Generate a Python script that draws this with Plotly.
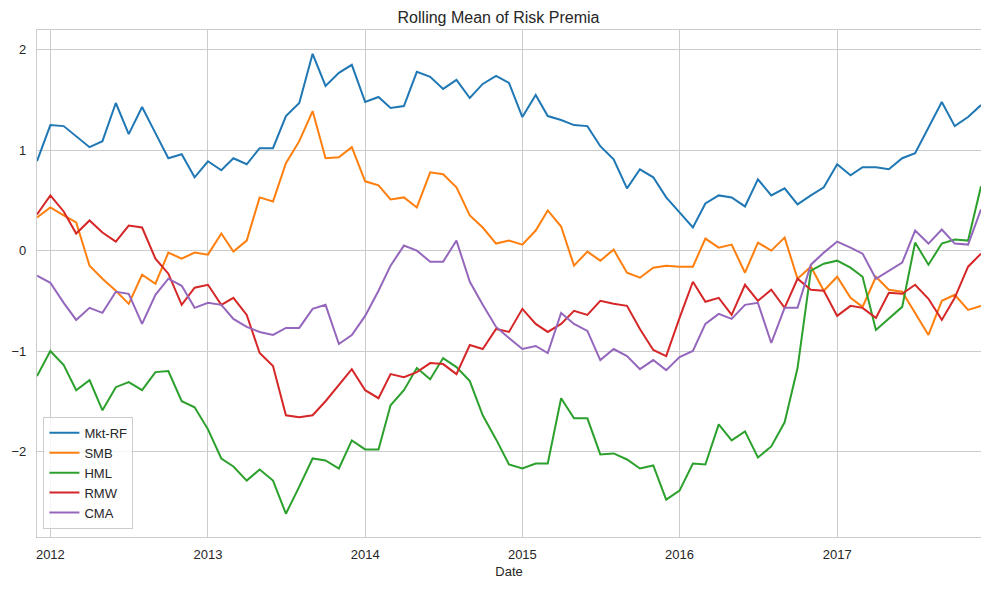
import pandas as pd
import plotly.graph_objects as go

# ---- data (monthly rolling means, Dec 2011 .. Dec 2017) ----
start_month = "2011-12-01"
end_month = "2017-12-01"
dates = pd.date_range(start_month, end_month, freq="MS")

mkt_rf = [0.89,
          1.25, 1.24, 1.14, 1.03, 1.09, 1.47, 1.16, 1.43, 1.17, 0.92, 0.96, 0.73,
          0.89, 0.80, 0.92, 0.86, 1.02, 1.02, 1.34, 1.47, 1.96, 1.64, 1.77, 1.85,
          1.48, 1.53, 1.42, 1.44, 1.78, 1.73, 1.61, 1.70, 1.52, 1.66, 1.74, 1.67,
          1.33, 1.55, 1.34, 1.30, 1.25, 1.24, 1.04, 0.91, 0.62, 0.81, 0.73, 0.53,
          0.38, 0.23, 0.47, 0.55, 0.53, 0.44, 0.71, 0.55, 0.62, 0.46, 0.55, 0.63,
          0.86, 0.75, 0.83, 0.83, 0.81, 0.92, 0.97, 1.23, 1.48, 1.24, 1.33, 1.45]

smb = [0.33,
       0.43, 0.35, 0.28, -0.15, -0.28, -0.40, -0.53, -0.24, -0.33, -0.02, -0.08, -0.02,
       -0.04, 0.17, -0.01, 0.10, 0.53, 0.49, 0.87, 1.09, 1.39, 0.92, 0.93, 1.03,
       0.69, 0.65, 0.51, 0.53, 0.43, 0.78, 0.76, 0.63, 0.35, 0.23, 0.07, 0.10,
       0.06, 0.20, 0.40, 0.24, -0.15, -0.01, -0.10, 0.01, -0.22, -0.27, -0.17, -0.15,
       -0.16, -0.16, 0.12, 0.03, 0.06, -0.22, 0.08, 0.00, 0.13, -0.28, -0.16, -0.40,
       -0.26, -0.47, -0.56, -0.26, -0.39, -0.41, -0.62, -0.84, -0.50, -0.44, -0.59, -0.55]

hml = [-1.25,
       -1.00, -1.14, -1.39, -1.29, -1.59, -1.36, -1.31, -1.39, -1.21, -1.20, -1.50, -1.56,
       -1.78, -2.07, -2.15, -2.29, -2.18, -2.29, -2.62, -2.35, -2.07, -2.09, -2.17, -1.89,
       -1.98, -1.98, -1.54, -1.39, -1.17, -1.28, -1.07, -1.16, -1.30, -1.64, -1.88, -2.13,
       -2.17, -2.12, -2.12, -1.47, -1.67, -1.67, -2.03, -2.02, -2.08, -2.17, -2.14, -2.48,
       -2.39, -2.12, -2.13, -1.73, -1.89, -1.80, -2.06, -1.95, -1.71, -1.17, -0.20, -0.13,
       -0.10, -0.17, -0.26, -0.79, -0.68, -0.56, 0.08, -0.14, 0.07, 0.11, 0.10, 0.64]

rmw = [0.36,
       0.55, 0.39, 0.17, 0.30, 0.18, 0.09, 0.25, 0.23, -0.08, -0.23, -0.54, -0.37,
       -0.34, -0.54, -0.47, -0.64, -1.02, -1.15, -1.64, -1.66, -1.64, -1.50, -1.34, -1.18,
       -1.39, -1.47, -1.23, -1.26, -1.21, -1.12, -1.13, -1.23, -0.94, -0.98, -0.78, -0.81,
       -0.58, -0.73, -0.81, -0.73, -0.60, -0.64, -0.50, -0.53, -0.55, -0.78, -0.99, -1.05,
       -0.67, -0.31, -0.51, -0.47, -0.64, -0.34, -0.50, -0.39, -0.57, -0.28, -0.39, -0.40,
       -0.65, -0.55, -0.57, -0.67, -0.42, -0.43, -0.34, -0.48, -0.69, -0.47, -0.16, -0.03]

cma = [-0.25,
       -0.32, -0.52, -0.69, -0.57, -0.62, -0.41, -0.43, -0.73, -0.44, -0.28, -0.35, -0.57,
       -0.52, -0.54, -0.68, -0.76, -0.81, -0.84, -0.77, -0.77, -0.58, -0.54, -0.93, -0.84,
       -0.65, -0.40, -0.15, 0.05, 0.00, -0.11, -0.11, 0.10, -0.31, -0.54, -0.76, -0.87,
       -0.98, -0.95, -1.02, -0.62, -0.73, -0.80, -1.09, -0.98, -1.05, -1.18, -1.09, -1.19,
       -1.06, -1.00, -0.73, -0.63, -0.68, -0.54, -0.52, -0.92, -0.57, -0.57, -0.14, -0.02,
       0.09, 0.03, -0.03, -0.28, -0.20, -0.12, 0.20, 0.07, 0.21, 0.07, 0.06, 0.41]

series_names = ["Mkt-RF", "SMB", "HML", "RMW", "CMA"]
series_values = [mkt_rf, smb, hml, rmw, cma]
colors = ["#1f77b4", "#ff7f0e", "#2ca02c", "#d62728", "#9467bd"]
year_ticks = ["2012-01-01", "2013-01-01", "2014-01-01", "2015-01-01", "2016-01-01", "2017-01-01"]
year_labels = ["2012", "2013", "2014", "2015", "2016", "2017"]
y_ticks = [-2, -1, 0, 1, 2]

FONT = "Liberation Sans, Arial, sans-serif"
TXT = "#262626"
GRID = "#cccccc"

# the page body adds an 8px offset, so the figure is 8px smaller than the window
W, H = 981, 582

fig = go.Figure()
for name, vals, col in zip(series_names, series_values, colors):
    fig.add_trace(go.Scatter(x=dates, y=vals, mode="lines", name=name,
                             line=dict(color=col, width=2)))

fig.update_layout(
    width=W, height=H,
    margin=dict(l=29, r=8, t=22, b=53, autoexpand=False),
    plot_bgcolor="white", paper_bgcolor="white",
    font=dict(family=FONT, size=13, color=TXT),
    title=dict(text="Rolling Mean of Risk Premia", x=0.5, xanchor="center",
               y=1 - 9 / H, yanchor="middle", yref="container",
               font=dict(size=16, color=TXT)),
    legend=dict(x=0.0068, y=0.016, xanchor="left", yanchor="bottom",
                bgcolor="rgba(255,255,255,0.8)", bordercolor=GRID, borderwidth=1,
                font=dict(size=13, color=TXT)),
    showlegend=True,
)
fig.update_xaxes(
    range=[dates[0], dates[-1]],
    tickvals=year_ticks, ticktext=year_labels,
    showgrid=True, gridcolor=GRID, gridwidth=1,
    showline=True, linecolor=GRID, linewidth=1.25, mirror=True,
    ticks="", zeroline=False, automargin=False,
    title=dict(text="Date", font=dict(size=13, color=TXT), standoff=6),
    tickfont=dict(size=13, color=TXT),
    ticklabelstandoff=5,
)
fig.update_yaxes(
    range=[-2.852, 2.197],
    tickvals=y_ticks,
    showgrid=True, gridcolor=GRID, gridwidth=1,
    showline=True, linecolor=GRID, linewidth=1.25, mirror=True,
    ticks="", zeroline=False, automargin=False,
    tickfont=dict(size=13, color=TXT),
    ticklabelstandoff=7,
)

fig.write_html("out.html")
